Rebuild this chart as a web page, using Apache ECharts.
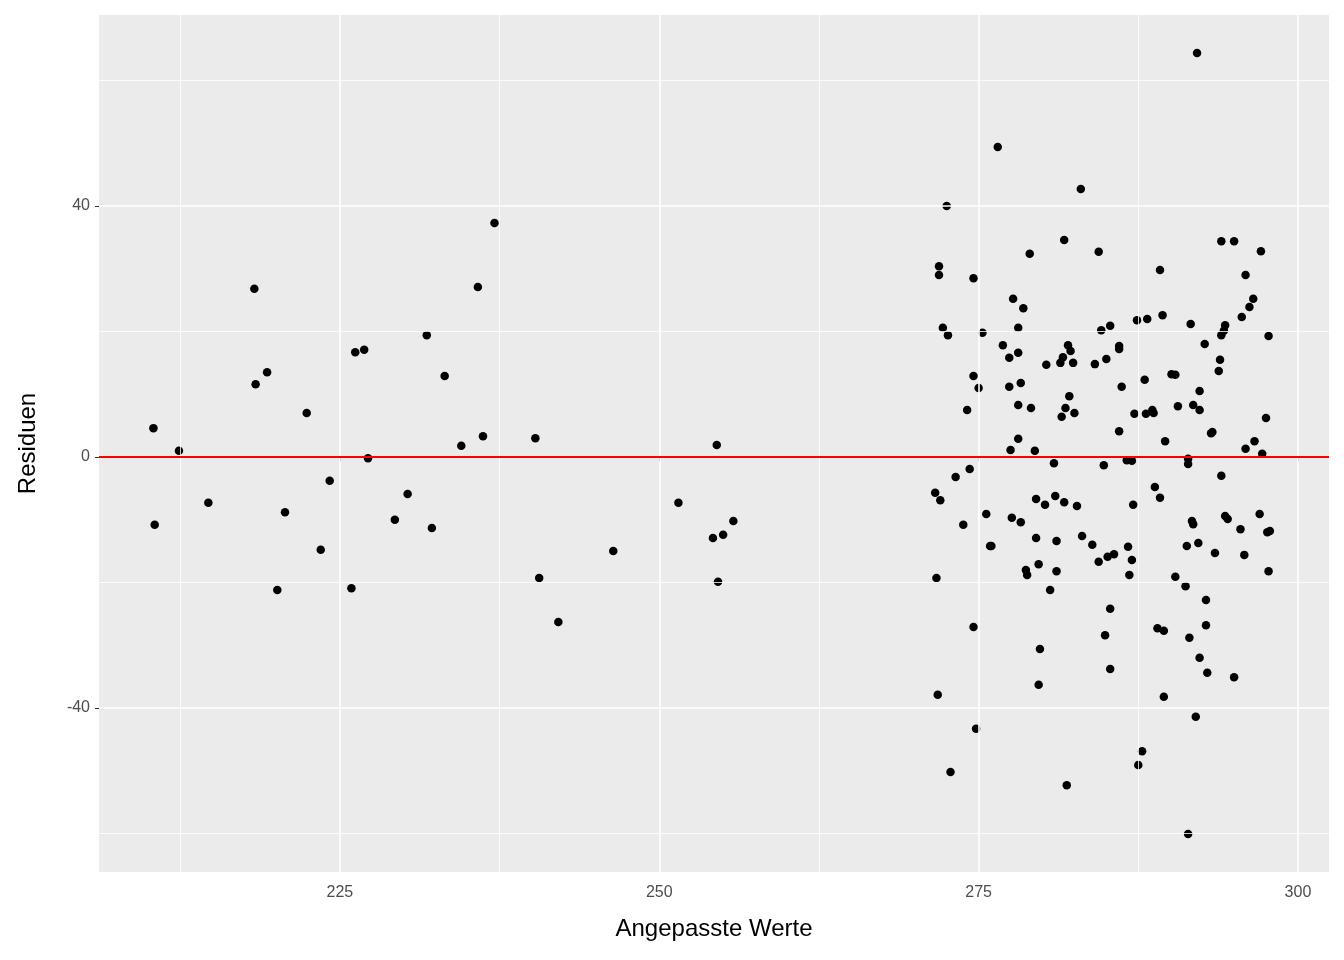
<!DOCTYPE html>
<html><head><meta charset="utf-8">
<script src="https://cdn.jsdelivr.net/npm/echarts@6/dist/echarts.min.js"></script>
<style>html,body{margin:0;padding:0;background:#fff}#c{width:1344px;height:960px}</style>
</head><body><div id="c"></div>
<script>
const xTicks = [225, 250, 275, 300];
const xMinor = [212.5, 237.5, 262.5, 287.5];
const yTicks = [-40, 0, 40];
const yMinor = [-60, -20, 20, 60];
const leftFitted = [210.4,210.5,212.4,214.7,218.3,218.4,219.3,220.1,220.7,222.4,223.5,224.2,225.9,226.2,226.9,227.2,229.3,230.3,231.8,232.2,233.2,234.5,235.8,236.2,237.1,240.3,240.6,242.1,246.4,251.5,254.2,254.5,254.6,255.0,255.8];
const leftResid = [4.6,-10.8,1.0,-7.3,26.8,11.6,13.5,-21.2,-8.8,7.0,-14.8,-3.8,-20.9,16.7,17.1,-0.2,-10.0,-5.9,19.4,-11.3,12.9,1.8,27.1,3.3,37.3,3.0,-19.3,-26.3,-15.0,-7.3,-12.9,1.9,-19.9,-12.4,-10.2];
const rightFitted = [271.6,271.7,271.9,271.9,271.8,272.0,272.2,272.5,272.6,272.8,273.2,273.8,274.1,274.3,274.6,274.6,274.6,274.8,275.0,275.3,275.6,275.9,276.0,276.5,276.9,277.4,277.4,277.5,277.6,277.7,278.1,278.1,278.1,278.1,278.3,278.3,278.5,278.7,278.8,279.0,279.1,279.4,279.5,279.5,279.7,279.7,279.8,280.2,280.3,280.6,280.9,281.0,281.1,281.1,281.4,281.5,281.6,281.7,281.7,281.8,281.9,282.0,282.1,282.2,282.4,282.5,282.7,283.0,283.1,283.9,284.1,284.4,284.4,284.6,284.8,284.9,285.0,285.1,285.3,285.3,285.3,285.6,286.0,286.0,286.0,286.2,286.6,286.7,286.8,287.0,287.0,287.1,287.2,287.4,287.5,287.8,288.0,288.1,288.2,288.6,288.7,288.8,289.0,289.2,289.2,289.4,289.5,289.5,289.6,290.1,290.4,290.4,290.6,291.2,291.3,291.4,291.4,291.4,291.5,291.6,291.7,291.8,291.8,292.0,292.1,292.2,292.3,292.3,292.3,292.7,292.8,292.8,292.9,293.2,293.3,293.5,293.8,293.9,294.0,294.0,294.0,294.2,294.3,294.3,294.5,295.0,295.0,295.5,295.6,295.8,295.9,295.9,296.2,296.5,296.6,297.0,297.1,297.2,297.5,297.6,297.7,297.7,297.8];
const rightResid = [-5.7,-19.3,30.4,29.0,-37.9,-6.9,20.6,40.0,19.4,-50.2,-3.2,-10.8,7.5,-1.9,-27.1,28.5,12.9,-43.3,11.0,19.8,-9.1,-14.2,-14.2,49.4,17.8,15.8,11.2,1.1,-9.7,25.2,20.6,16.6,8.3,2.9,11.8,-10.4,23.7,-18.0,-18.8,32.4,7.8,1.0,-6.7,-12.9,-17.1,-36.3,-30.6,-7.6,14.7,-21.2,-1.0,-6.2,-18.2,-13.4,15.0,6.4,15.9,34.6,-7.2,7.8,-52.3,17.8,9.7,16.9,15.0,7.0,-7.8,42.7,-12.6,-14.0,14.8,32.7,-16.7,20.2,-1.3,-28.4,15.6,-15.9,20.9,-24.2,-33.8,-15.5,17.2,17.7,4.1,11.2,-0.5,-14.3,-18.8,-0.6,-16.4,-7.6,6.9,21.8,-49.1,-46.9,12.3,6.9,22.0,7.5,7.0,-4.8,-27.3,29.8,-6.5,22.6,-27.7,-38.2,2.5,13.2,13.1,-19.1,8.1,-20.6,-14.2,-0.3,-1.1,-60.1,-28.8,21.2,-10.2,-10.7,8.3,-41.4,64.4,-13.7,7.5,-32.0,10.5,18.0,-22.8,-26.8,-34.4,3.8,4.0,-15.3,13.7,15.5,34.4,-3.0,19.4,20.1,21.0,-9.4,-9.9,-35.1,34.4,-11.5,22.3,-15.6,29.0,1.3,23.9,25.2,2.5,-9.1,32.8,0.5,6.2,-12.0,-18.2,19.3,-11.8];

const fitted = leftFitted.concat(rightFitted);
const resid = leftResid.concat(rightResid);
const points = fitted.map((x, i) => [x, resid[i]]);

const gridLines = []
  .concat(xMinor.map(v => ({xAxis: v, lineStyle: {width: 0.8}})))
  .concat(yMinor.map(v => ({yAxis: v, lineStyle: {width: 0.8}})))
  .concat(xTicks.map(v => ({xAxis: v, lineStyle: {width: 1.6}})))
  .concat(yTicks.map(v => ({yAxis: v, lineStyle: {width: 1.6}})));

const font = 'Liberation Sans, Arial, sans-serif';
const chart = echarts.init(document.getElementById('c'), null, {renderer: 'canvas'});
chart.setOption({
  animation: false,
  backgroundColor: '#fff',
  grid: {left: 99, right: 15, top: 15, bottom: 88, show: true, backgroundColor: '#EBEBEB', borderWidth: 0},
  xAxis: {
    type: 'value', min: 206.14, max: 302.43,
    name: 'Angepasste Werte', nameLocation: 'middle', nameGap: 45,
    nameTextStyle: {color: '#000', fontSize: 24, fontFamily: font},
    axisLine: {show: false},
    axisTick: {show: true, length: 4, lineStyle: {color: '#333', width: 1}, customValues: xTicks},
    axisLabel: {color: '#4D4D4D', fontSize: 16, fontFamily: font, margin: 13, customValues: xTicks},
    splitLine: {show: false}
  },
  yAxis: {
    type: 'value', min: -66.14, max: 70.44,
    name: 'Residuen', nameLocation: 'middle', nameGap: 59, nameRotate: 90,
    nameTextStyle: {color: '#000', fontSize: 24, fontFamily: font},
    axisLine: {show: false},
    axisTick: {show: true, length: 4, lineStyle: {color: '#333', width: 1}, customValues: yTicks},
    axisLabel: {color: '#4D4D4D', fontSize: 16, fontFamily: font, margin: 9, customValues: yTicks},
    splitLine: {show: false}
  },
  series: [
    {type: 'line', data: [], z: 1, silent: true,
     markLine: {silent: true, symbol: 'none', label: {show: false}, animation: false,
       lineStyle: {color: '#FFFFFF', type: 'solid', opacity: 1}, emphasis: {disabled: true}, data: gridLines}},
    {type: 'scatter', data: points, z: 3, symbolSize: 8.5,
     itemStyle: {color: '#000', opacity: 1}},
    {type: 'line', data: [], z: 4, silent: true,
     markLine: {silent: true, symbol: 'none', label: {show: false}, animation: false,
       lineStyle: {color: '#FF0000', type: 'solid', width: 2, opacity: 1}, data: [{yAxis: 0}]}}
  ]
});
</script></body></html>
